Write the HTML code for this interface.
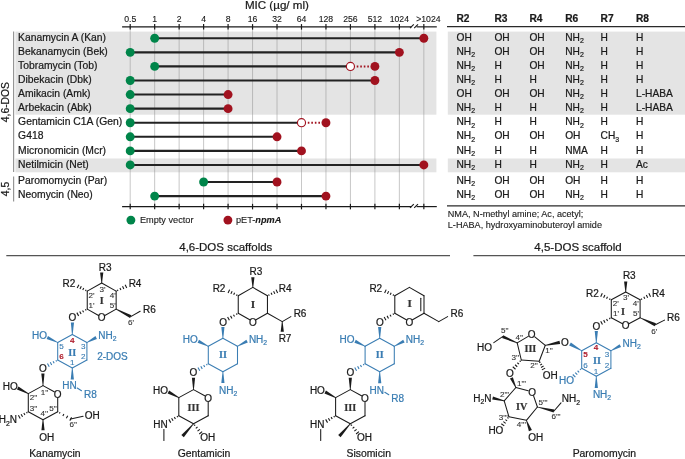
<!DOCTYPE html>
<html lang="en">
<head>
<meta charset="utf-8">
<title>MIC and aminoglycoside scaffolds</title>
<style>
html,body{margin:0;padding:0;background:#fff;}
svg{display:block;font-family:"Liberation Sans", Arial, Helvetica, sans-serif;fill:#1a1a1a;}
svg text{white-space:pre;}
</style>
</head>
<body>
<svg width="685" height="459" viewBox="0 0 685 459">
<rect x="0" y="0" width="685" height="459" fill="#fff"/>
<defs><filter id="soft" x="-5%" y="-20%" width="110%" height="140%"><feGaussianBlur stdDeviation="0.55"/></filter></defs>
<g filter="url(#soft)">
<rect x="15.4" y="31.6" width="421.0" height="83.1" fill="#e4e4e4"/>
<rect x="15.4" y="158.5" width="421.0" height="13.8" fill="#e4e4e4"/>
<rect x="447.8" y="31.6" width="240" height="83.1" fill="#e4e4e4"/>
<rect x="447.8" y="158.5" width="240" height="13.8" fill="#e4e4e4"/>
</g>
<line x1="13.60" y1="31.60" x2="13.60" y2="171.90" stroke="#969696" stroke-width="1.2"/>
<line x1="13.60" y1="176.60" x2="13.60" y2="201.40" stroke="#969696" stroke-width="1.2"/>
<line x1="130.20" y1="27.00" x2="130.20" y2="206.80" stroke="#8e8e8e" stroke-width="0.5"/>
<line x1="154.67" y1="27.00" x2="154.67" y2="206.80" stroke="#8e8e8e" stroke-width="0.5"/>
<line x1="179.14" y1="27.00" x2="179.14" y2="206.80" stroke="#8e8e8e" stroke-width="0.5"/>
<line x1="203.61" y1="27.00" x2="203.61" y2="206.80" stroke="#8e8e8e" stroke-width="0.5"/>
<line x1="228.08" y1="27.00" x2="228.08" y2="206.80" stroke="#8e8e8e" stroke-width="0.5"/>
<line x1="252.55" y1="27.00" x2="252.55" y2="206.80" stroke="#8e8e8e" stroke-width="0.5"/>
<line x1="277.02" y1="27.00" x2="277.02" y2="206.80" stroke="#8e8e8e" stroke-width="0.5"/>
<line x1="301.49" y1="27.00" x2="301.49" y2="206.80" stroke="#8e8e8e" stroke-width="0.5"/>
<line x1="325.96" y1="27.00" x2="325.96" y2="206.80" stroke="#8e8e8e" stroke-width="0.5"/>
<line x1="350.43" y1="27.00" x2="350.43" y2="206.80" stroke="#8e8e8e" stroke-width="0.5"/>
<line x1="374.90" y1="27.00" x2="374.90" y2="206.80" stroke="#8e8e8e" stroke-width="0.5"/>
<line x1="399.37" y1="27.00" x2="399.37" y2="206.80" stroke="#8e8e8e" stroke-width="0.5"/>
<line x1="423.84" y1="27.00" x2="423.84" y2="206.80" stroke="#8e8e8e" stroke-width="0.5"/>
<line x1="122.10" y1="26.85" x2="411.60" y2="26.85" stroke="#1a1a1a" stroke-width="1.2"/>
<line x1="416.60" y1="26.85" x2="436.80" y2="26.85" stroke="#1a1a1a" stroke-width="1.2"/>
<line x1="130.20" y1="24.10" x2="130.20" y2="29.60" stroke="#1a1a1a" stroke-width="1.2"/>
<line x1="154.67" y1="24.10" x2="154.67" y2="29.60" stroke="#1a1a1a" stroke-width="1.2"/>
<line x1="179.14" y1="24.10" x2="179.14" y2="29.60" stroke="#1a1a1a" stroke-width="1.2"/>
<line x1="203.61" y1="24.10" x2="203.61" y2="29.60" stroke="#1a1a1a" stroke-width="1.2"/>
<line x1="228.08" y1="24.10" x2="228.08" y2="29.60" stroke="#1a1a1a" stroke-width="1.2"/>
<line x1="252.55" y1="24.10" x2="252.55" y2="29.60" stroke="#1a1a1a" stroke-width="1.2"/>
<line x1="277.02" y1="24.10" x2="277.02" y2="29.60" stroke="#1a1a1a" stroke-width="1.2"/>
<line x1="301.49" y1="24.10" x2="301.49" y2="29.60" stroke="#1a1a1a" stroke-width="1.2"/>
<line x1="325.96" y1="24.10" x2="325.96" y2="29.60" stroke="#1a1a1a" stroke-width="1.2"/>
<line x1="350.43" y1="24.10" x2="350.43" y2="29.60" stroke="#1a1a1a" stroke-width="1.2"/>
<line x1="374.90" y1="24.10" x2="374.90" y2="29.60" stroke="#1a1a1a" stroke-width="1.2"/>
<line x1="399.37" y1="24.10" x2="399.37" y2="29.60" stroke="#1a1a1a" stroke-width="1.2"/>
<line x1="423.84" y1="24.10" x2="423.84" y2="29.60" stroke="#1a1a1a" stroke-width="1.2"/>
<line x1="410.00" y1="28.15" x2="413.80" y2="24.35" stroke="#1a1a1a" stroke-width="1.1"/>
<line x1="414.20" y1="28.15" x2="418.00" y2="24.35" stroke="#1a1a1a" stroke-width="1.1"/>
<line x1="122.10" y1="206.60" x2="411.60" y2="206.60" stroke="#1a1a1a" stroke-width="1.2"/>
<line x1="416.60" y1="206.60" x2="436.80" y2="206.60" stroke="#1a1a1a" stroke-width="1.2"/>
<line x1="130.20" y1="203.85" x2="130.20" y2="209.35" stroke="#1a1a1a" stroke-width="1.2"/>
<line x1="154.67" y1="203.85" x2="154.67" y2="209.35" stroke="#1a1a1a" stroke-width="1.2"/>
<line x1="179.14" y1="203.85" x2="179.14" y2="209.35" stroke="#1a1a1a" stroke-width="1.2"/>
<line x1="203.61" y1="203.85" x2="203.61" y2="209.35" stroke="#1a1a1a" stroke-width="1.2"/>
<line x1="228.08" y1="203.85" x2="228.08" y2="209.35" stroke="#1a1a1a" stroke-width="1.2"/>
<line x1="252.55" y1="203.85" x2="252.55" y2="209.35" stroke="#1a1a1a" stroke-width="1.2"/>
<line x1="277.02" y1="203.85" x2="277.02" y2="209.35" stroke="#1a1a1a" stroke-width="1.2"/>
<line x1="301.49" y1="203.85" x2="301.49" y2="209.35" stroke="#1a1a1a" stroke-width="1.2"/>
<line x1="325.96" y1="203.85" x2="325.96" y2="209.35" stroke="#1a1a1a" stroke-width="1.2"/>
<line x1="350.43" y1="203.85" x2="350.43" y2="209.35" stroke="#1a1a1a" stroke-width="1.2"/>
<line x1="374.90" y1="203.85" x2="374.90" y2="209.35" stroke="#1a1a1a" stroke-width="1.2"/>
<line x1="399.37" y1="203.85" x2="399.37" y2="209.35" stroke="#1a1a1a" stroke-width="1.2"/>
<line x1="423.84" y1="203.85" x2="423.84" y2="209.35" stroke="#1a1a1a" stroke-width="1.2"/>
<line x1="410.00" y1="207.90" x2="413.80" y2="204.10" stroke="#1a1a1a" stroke-width="1.1"/>
<line x1="414.20" y1="207.90" x2="418.00" y2="204.10" stroke="#1a1a1a" stroke-width="1.1"/>
<text x="130.20" y="22.30" font-size="8.7" text-anchor="middle" stroke="#1a1a1a" stroke-width="0.12">0.5</text>
<text x="154.67" y="22.30" font-size="8.7" text-anchor="middle" stroke="#1a1a1a" stroke-width="0.12">1</text>
<text x="179.14" y="22.30" font-size="8.7" text-anchor="middle" stroke="#1a1a1a" stroke-width="0.12">2</text>
<text x="203.61" y="22.30" font-size="8.7" text-anchor="middle" stroke="#1a1a1a" stroke-width="0.12">4</text>
<text x="228.08" y="22.30" font-size="8.7" text-anchor="middle" stroke="#1a1a1a" stroke-width="0.12">8</text>
<text x="252.55" y="22.30" font-size="8.7" text-anchor="middle" stroke="#1a1a1a" stroke-width="0.12">16</text>
<text x="277.02" y="22.30" font-size="8.7" text-anchor="middle" stroke="#1a1a1a" stroke-width="0.12">32</text>
<text x="301.49" y="22.30" font-size="8.7" text-anchor="middle" stroke="#1a1a1a" stroke-width="0.12">64</text>
<text x="325.96" y="22.30" font-size="8.7" text-anchor="middle" stroke="#1a1a1a" stroke-width="0.12">128</text>
<text x="350.43" y="22.30" font-size="8.7" text-anchor="middle" stroke="#1a1a1a" stroke-width="0.12">256</text>
<text x="374.90" y="22.30" font-size="8.7" text-anchor="middle" stroke="#1a1a1a" stroke-width="0.12">512</text>
<text x="399.37" y="22.30" font-size="8.7" text-anchor="middle" stroke="#1a1a1a" stroke-width="0.12">1024</text>
<text x="428.40" y="22.30" font-size="8.7" text-anchor="middle" stroke="#1a1a1a" stroke-width="0.12">&gt;1024</text>
<text x="276.90" y="8.70" font-size="11.6" text-anchor="middle" stroke="#1a1a1a" stroke-width="0.22">MIC (µg/ ml)</text>
<text x="18.10" y="40.65" font-size="10.35" stroke="#1a1a1a" stroke-width="0.22">Kanamycin A (Kan)</text>
<text x="18.10" y="54.77" font-size="10.35" stroke="#1a1a1a" stroke-width="0.22">Bekanamycin (Bek)</text>
<text x="18.10" y="68.88" font-size="10.35" stroke="#1a1a1a" stroke-width="0.22">Tobramycin (Tob)</text>
<text x="18.10" y="83.00" font-size="10.35" stroke="#1a1a1a" stroke-width="0.22">Dibekacin (Dbk)</text>
<text x="18.10" y="97.11" font-size="10.35" stroke="#1a1a1a" stroke-width="0.22">Amikacin (Amk)</text>
<text x="18.10" y="111.22" font-size="10.35" stroke="#1a1a1a" stroke-width="0.22">Arbekacin (Abk)</text>
<text x="18.10" y="125.34" font-size="10.35" stroke="#1a1a1a" stroke-width="0.22">Gentamicin C1A (Gen)</text>
<text x="18.10" y="139.46" font-size="10.35" stroke="#1a1a1a" stroke-width="0.22">G418</text>
<text x="18.10" y="153.57" font-size="10.35" stroke="#1a1a1a" stroke-width="0.22">Micronomicin (Mcr)</text>
<text x="18.10" y="167.69" font-size="10.35" stroke="#1a1a1a" stroke-width="0.22">Netilmicin (Net)</text>
<text x="18.10" y="184.10" font-size="10.35" stroke="#1a1a1a" stroke-width="0.22">Paromomycin (Par)</text>
<text x="18.10" y="198.20" font-size="10.35" stroke="#1a1a1a" stroke-width="0.22">Neomycin (Neo)</text>
<text transform="translate(8.8,102.1) rotate(-90)" font-size="10.3" text-anchor="middle" stroke="#1a1a1a" stroke-width="0.22">4,6-DOS</text>
<text transform="translate(8.8,189.0) rotate(-90)" font-size="10.3" text-anchor="middle" stroke="#1a1a1a" stroke-width="0.22">4,5</text>
<line x1="154.67" y1="38.25" x2="423.84" y2="38.25" stroke="#222" stroke-width="2.1"/>
<circle cx="154.67" cy="38.25" r="4.45" fill="#00854a"/>
<circle cx="423.84" cy="38.25" r="4.45" fill="#a1121f"/>
<line x1="130.20" y1="52.33" x2="399.37" y2="52.33" stroke="#222" stroke-width="2.1"/>
<circle cx="130.20" cy="52.33" r="4.45" fill="#00854a"/>
<circle cx="399.37" cy="52.33" r="4.45" fill="#a1121f"/>
<line x1="154.67" y1="66.41" x2="350.43" y2="66.41" stroke="#222" stroke-width="2.1"/>
<line x1="356.73" y1="66.41" x2="370.90" y2="66.41" stroke="#a1121f" stroke-width="2.0" stroke-dasharray="1.6 1.93"/>
<circle cx="350.43" cy="66.41" r="4.05" fill="#fff" stroke="#a1121f" stroke-width="1.15"/>
<circle cx="154.67" cy="66.41" r="4.45" fill="#00854a"/>
<circle cx="374.90" cy="66.41" r="4.45" fill="#a1121f"/>
<line x1="130.20" y1="80.49" x2="374.90" y2="80.49" stroke="#222" stroke-width="2.1"/>
<circle cx="130.20" cy="80.49" r="4.45" fill="#00854a"/>
<circle cx="374.90" cy="80.49" r="4.45" fill="#a1121f"/>
<line x1="130.20" y1="94.57" x2="228.08" y2="94.57" stroke="#222" stroke-width="2.1"/>
<circle cx="130.20" cy="94.57" r="4.45" fill="#00854a"/>
<circle cx="228.08" cy="94.57" r="4.45" fill="#a1121f"/>
<line x1="130.20" y1="108.65" x2="228.08" y2="108.65" stroke="#222" stroke-width="2.1"/>
<circle cx="130.20" cy="108.65" r="4.45" fill="#00854a"/>
<circle cx="228.08" cy="108.65" r="4.45" fill="#a1121f"/>
<line x1="130.20" y1="122.73" x2="301.49" y2="122.73" stroke="#222" stroke-width="2.1"/>
<line x1="307.79" y1="122.73" x2="321.96" y2="122.73" stroke="#a1121f" stroke-width="2.0" stroke-dasharray="1.6 1.93"/>
<circle cx="301.49" cy="122.73" r="4.05" fill="#fff" stroke="#a1121f" stroke-width="1.15"/>
<circle cx="130.20" cy="122.73" r="4.45" fill="#00854a"/>
<circle cx="325.96" cy="122.73" r="4.45" fill="#a1121f"/>
<line x1="130.20" y1="136.81" x2="277.02" y2="136.81" stroke="#222" stroke-width="2.1"/>
<circle cx="130.20" cy="136.81" r="4.45" fill="#00854a"/>
<circle cx="277.02" cy="136.81" r="4.45" fill="#a1121f"/>
<line x1="130.20" y1="150.89" x2="301.49" y2="150.89" stroke="#222" stroke-width="2.1"/>
<circle cx="130.20" cy="150.89" r="4.45" fill="#00854a"/>
<circle cx="301.49" cy="150.89" r="4.45" fill="#a1121f"/>
<line x1="130.20" y1="164.97" x2="423.84" y2="164.97" stroke="#222" stroke-width="2.1"/>
<circle cx="130.20" cy="164.97" r="4.45" fill="#00854a"/>
<circle cx="423.84" cy="164.97" r="4.45" fill="#a1121f"/>
<line x1="203.61" y1="182.00" x2="277.02" y2="182.00" stroke="#222" stroke-width="2.1"/>
<circle cx="203.61" cy="182.0" r="4.45" fill="#00854a"/>
<circle cx="277.02" cy="182.0" r="4.45" fill="#a1121f"/>
<line x1="154.67" y1="196.10" x2="325.96" y2="196.10" stroke="#222" stroke-width="2.1"/>
<circle cx="154.67" cy="196.1" r="4.45" fill="#00854a"/>
<circle cx="325.96" cy="196.1" r="4.45" fill="#a1121f"/>
<circle cx="130.9" cy="220.1" r="4.45" fill="#00854a"/>
<text x="139.90" y="223.30" font-size="9.2" stroke="#1a1a1a" stroke-width="0.12">Empty vector</text>
<circle cx="227.9" cy="220.1" r="4.45" fill="#a1121f"/>
<text x="235.90" y="223.30" font-size="9.2" stroke="#1a1a1a" stroke-width="0.12">pET-<tspan font-weight="bold" font-style="italic">npmA</tspan></text>
<text x="456.50" y="21.70" font-size="10.2" font-weight="bold" stroke="#1a1a1a" stroke-width="0.22">R2</text>
<text x="494.40" y="21.70" font-size="10.2" font-weight="bold" stroke="#1a1a1a" stroke-width="0.22">R3</text>
<text x="529.40" y="21.70" font-size="10.2" font-weight="bold" stroke="#1a1a1a" stroke-width="0.22">R4</text>
<text x="565.20" y="21.70" font-size="10.2" font-weight="bold" stroke="#1a1a1a" stroke-width="0.22">R6</text>
<text x="600.60" y="21.70" font-size="10.2" font-weight="bold" stroke="#1a1a1a" stroke-width="0.22">R7</text>
<text x="636.00" y="21.70" font-size="10.2" font-weight="bold" stroke="#1a1a1a" stroke-width="0.22">R8</text>
<line x1="447.00" y1="26.60" x2="685.00" y2="26.60" stroke="#2a2a2a" stroke-width="1.25"/>
<line x1="447.00" y1="205.80" x2="685.00" y2="205.80" stroke="#2a2a2a" stroke-width="1.25"/>
<text x="456.50" y="40.65" font-size="10.2" stroke="#1a1a1a" stroke-width="0.22">OH</text>
<text x="494.40" y="40.65" font-size="10.2" stroke="#1a1a1a" stroke-width="0.22">OH</text>
<text x="529.40" y="40.65" font-size="10.2" stroke="#1a1a1a" stroke-width="0.22">OH</text>
<text x="565.20" y="40.65" font-size="10.2" stroke="#1a1a1a" stroke-width="0.22">NH<tspan font-size="6.94" dy="2.24">2</tspan></text>
<text x="600.60" y="40.65" font-size="10.2" stroke="#1a1a1a" stroke-width="0.22">H</text>
<text x="636.00" y="40.65" font-size="10.2" stroke="#1a1a1a" stroke-width="0.22">H</text>
<text x="456.50" y="54.77" font-size="10.2" stroke="#1a1a1a" stroke-width="0.22">NH<tspan font-size="6.94" dy="2.24">2</tspan></text>
<text x="494.40" y="54.77" font-size="10.2" stroke="#1a1a1a" stroke-width="0.22">OH</text>
<text x="529.40" y="54.77" font-size="10.2" stroke="#1a1a1a" stroke-width="0.22">OH</text>
<text x="565.20" y="54.77" font-size="10.2" stroke="#1a1a1a" stroke-width="0.22">NH<tspan font-size="6.94" dy="2.24">2</tspan></text>
<text x="600.60" y="54.77" font-size="10.2" stroke="#1a1a1a" stroke-width="0.22">H</text>
<text x="636.00" y="54.77" font-size="10.2" stroke="#1a1a1a" stroke-width="0.22">H</text>
<text x="456.50" y="68.88" font-size="10.2" stroke="#1a1a1a" stroke-width="0.22">NH<tspan font-size="6.94" dy="2.24">2</tspan></text>
<text x="494.40" y="68.88" font-size="10.2" stroke="#1a1a1a" stroke-width="0.22">H</text>
<text x="529.40" y="68.88" font-size="10.2" stroke="#1a1a1a" stroke-width="0.22">OH</text>
<text x="565.20" y="68.88" font-size="10.2" stroke="#1a1a1a" stroke-width="0.22">NH<tspan font-size="6.94" dy="2.24">2</tspan></text>
<text x="600.60" y="68.88" font-size="10.2" stroke="#1a1a1a" stroke-width="0.22">H</text>
<text x="636.00" y="68.88" font-size="10.2" stroke="#1a1a1a" stroke-width="0.22">H</text>
<text x="456.50" y="83.00" font-size="10.2" stroke="#1a1a1a" stroke-width="0.22">NH<tspan font-size="6.94" dy="2.24">2</tspan></text>
<text x="494.40" y="83.00" font-size="10.2" stroke="#1a1a1a" stroke-width="0.22">H</text>
<text x="529.40" y="83.00" font-size="10.2" stroke="#1a1a1a" stroke-width="0.22">H</text>
<text x="565.20" y="83.00" font-size="10.2" stroke="#1a1a1a" stroke-width="0.22">NH<tspan font-size="6.94" dy="2.24">2</tspan></text>
<text x="600.60" y="83.00" font-size="10.2" stroke="#1a1a1a" stroke-width="0.22">H</text>
<text x="636.00" y="83.00" font-size="10.2" stroke="#1a1a1a" stroke-width="0.22">H</text>
<text x="456.50" y="97.11" font-size="10.2" stroke="#1a1a1a" stroke-width="0.22">OH</text>
<text x="494.40" y="97.11" font-size="10.2" stroke="#1a1a1a" stroke-width="0.22">OH</text>
<text x="529.40" y="97.11" font-size="10.2" stroke="#1a1a1a" stroke-width="0.22">OH</text>
<text x="565.20" y="97.11" font-size="10.2" stroke="#1a1a1a" stroke-width="0.22">NH<tspan font-size="6.94" dy="2.24">2</tspan></text>
<text x="600.60" y="97.11" font-size="10.2" stroke="#1a1a1a" stroke-width="0.22">H</text>
<text x="636.00" y="97.11" font-size="10.2" stroke="#1a1a1a" stroke-width="0.22">L-HABA</text>
<text x="456.50" y="111.22" font-size="10.2" stroke="#1a1a1a" stroke-width="0.22">NH<tspan font-size="6.94" dy="2.24">2</tspan></text>
<text x="494.40" y="111.22" font-size="10.2" stroke="#1a1a1a" stroke-width="0.22">H</text>
<text x="529.40" y="111.22" font-size="10.2" stroke="#1a1a1a" stroke-width="0.22">H</text>
<text x="565.20" y="111.22" font-size="10.2" stroke="#1a1a1a" stroke-width="0.22">NH<tspan font-size="6.94" dy="2.24">2</tspan></text>
<text x="600.60" y="111.22" font-size="10.2" stroke="#1a1a1a" stroke-width="0.22">H</text>
<text x="636.00" y="111.22" font-size="10.2" stroke="#1a1a1a" stroke-width="0.22">L-HABA</text>
<text x="456.50" y="125.34" font-size="10.2" stroke="#1a1a1a" stroke-width="0.22">NH<tspan font-size="6.94" dy="2.24">2</tspan></text>
<text x="494.40" y="125.34" font-size="10.2" stroke="#1a1a1a" stroke-width="0.22">H</text>
<text x="529.40" y="125.34" font-size="10.2" stroke="#1a1a1a" stroke-width="0.22">H</text>
<text x="565.20" y="125.34" font-size="10.2" stroke="#1a1a1a" stroke-width="0.22">NH<tspan font-size="6.94" dy="2.24">2</tspan></text>
<text x="600.60" y="125.34" font-size="10.2" stroke="#1a1a1a" stroke-width="0.22">H</text>
<text x="636.00" y="125.34" font-size="10.2" stroke="#1a1a1a" stroke-width="0.22">H</text>
<text x="456.50" y="139.46" font-size="10.2" stroke="#1a1a1a" stroke-width="0.22">NH<tspan font-size="6.94" dy="2.24">2</tspan></text>
<text x="494.40" y="139.46" font-size="10.2" stroke="#1a1a1a" stroke-width="0.22">OH</text>
<text x="529.40" y="139.46" font-size="10.2" stroke="#1a1a1a" stroke-width="0.22">OH</text>
<text x="565.20" y="139.46" font-size="10.2" stroke="#1a1a1a" stroke-width="0.22">OH</text>
<text x="600.60" y="139.46" font-size="10.2" stroke="#1a1a1a" stroke-width="0.22">CH<tspan font-size="6.94" dy="2.24">3</tspan></text>
<text x="636.00" y="139.46" font-size="10.2" stroke="#1a1a1a" stroke-width="0.22">H</text>
<text x="456.50" y="153.57" font-size="10.2" stroke="#1a1a1a" stroke-width="0.22">NH<tspan font-size="6.94" dy="2.24">2</tspan></text>
<text x="494.40" y="153.57" font-size="10.2" stroke="#1a1a1a" stroke-width="0.22">H</text>
<text x="529.40" y="153.57" font-size="10.2" stroke="#1a1a1a" stroke-width="0.22">H</text>
<text x="565.20" y="153.57" font-size="10.2" stroke="#1a1a1a" stroke-width="0.22">NMA</text>
<text x="600.60" y="153.57" font-size="10.2" stroke="#1a1a1a" stroke-width="0.22">H</text>
<text x="636.00" y="153.57" font-size="10.2" stroke="#1a1a1a" stroke-width="0.22">H</text>
<text x="456.50" y="167.69" font-size="10.2" stroke="#1a1a1a" stroke-width="0.22">NH<tspan font-size="6.94" dy="2.24">2</tspan></text>
<text x="494.40" y="167.69" font-size="10.2" stroke="#1a1a1a" stroke-width="0.22">H</text>
<text x="529.40" y="167.69" font-size="10.2" stroke="#1a1a1a" stroke-width="0.22">H</text>
<text x="565.20" y="167.69" font-size="10.2" stroke="#1a1a1a" stroke-width="0.22">NH<tspan font-size="6.94" dy="2.24">2</tspan></text>
<text x="600.60" y="167.69" font-size="10.2" stroke="#1a1a1a" stroke-width="0.22">H</text>
<text x="636.00" y="167.69" font-size="10.2" stroke="#1a1a1a" stroke-width="0.22">Ac</text>
<text x="456.50" y="184.10" font-size="10.2" stroke="#1a1a1a" stroke-width="0.22">NH<tspan font-size="6.94" dy="2.24">2</tspan></text>
<text x="494.40" y="184.10" font-size="10.2" stroke="#1a1a1a" stroke-width="0.22">OH</text>
<text x="529.40" y="184.10" font-size="10.2" stroke="#1a1a1a" stroke-width="0.22">OH</text>
<text x="565.20" y="184.10" font-size="10.2" stroke="#1a1a1a" stroke-width="0.22">OH</text>
<text x="600.60" y="184.10" font-size="10.2" stroke="#1a1a1a" stroke-width="0.22">H</text>
<text x="636.00" y="184.10" font-size="10.2" stroke="#1a1a1a" stroke-width="0.22">H</text>
<text x="456.50" y="198.20" font-size="10.2" stroke="#1a1a1a" stroke-width="0.22">NH<tspan font-size="6.94" dy="2.24">2</tspan></text>
<text x="494.40" y="198.20" font-size="10.2" stroke="#1a1a1a" stroke-width="0.22">OH</text>
<text x="529.40" y="198.20" font-size="10.2" stroke="#1a1a1a" stroke-width="0.22">OH</text>
<text x="565.20" y="198.20" font-size="10.2" stroke="#1a1a1a" stroke-width="0.22">NH<tspan font-size="6.94" dy="2.24">2</tspan></text>
<text x="600.60" y="198.20" font-size="10.2" stroke="#1a1a1a" stroke-width="0.22">H</text>
<text x="636.00" y="198.20" font-size="10.2" stroke="#1a1a1a" stroke-width="0.22">H</text>
<text x="447.80" y="216.80" font-size="9.1" stroke="#1a1a1a" stroke-width="0.12">NMA, N-methyl amine; Ac, acetyl;</text>
<text x="447.80" y="228.00" font-size="9.1" stroke="#1a1a1a" stroke-width="0.12">L-HABA, hydroxyaminobuteroyl amide</text>
<text x="225.80" y="251.40" font-size="11.5" text-anchor="middle" stroke="#1a1a1a" stroke-width="0.22">4,6-DOS scaffolds</text>
<text x="578.00" y="251.40" font-size="11.5" text-anchor="middle" stroke="#1a1a1a" stroke-width="0.22">4,5-DOS scaffold</text>
<line x1="6.30" y1="255.70" x2="450.00" y2="255.70" stroke="#555" stroke-width="1.2"/>
<line x1="473.40" y1="255.70" x2="685.00" y2="255.70" stroke="#555" stroke-width="1.2"/>
<line x1="87.25" y1="291.10" x2="101.70" y2="283.00" stroke="#1a1a1a" stroke-width="1.05" stroke-linecap="round"/>
<line x1="101.70" y1="283.00" x2="116.15" y2="291.10" stroke="#1a1a1a" stroke-width="1.05" stroke-linecap="round"/>
<line x1="116.15" y1="291.10" x2="116.15" y2="309.10" stroke="#1a1a1a" stroke-width="1.05" stroke-linecap="round"/>
<line x1="87.25" y1="291.10" x2="87.25" y2="309.10" stroke="#1a1a1a" stroke-width="1.05" stroke-linecap="round"/>
<line x1="87.25" y1="309.10" x2="98.56" y2="315.44" stroke="#1a1a1a" stroke-width="1.05" stroke-linecap="round"/>
<line x1="116.15" y1="309.10" x2="104.84" y2="315.44" stroke="#1a1a1a" stroke-width="1.05" stroke-linecap="round"/>
<text x="101.70" y="321.18" font-size="10.0" text-anchor="middle" stroke="#1a1a1a" stroke-width="0.22">O</text>
<polygon points="102.05,283.00 103.30,272.40 100.10,272.40 101.35,283.00" fill="#1a1a1a"/>
<text x="105.20" y="271.18" font-size="10.0" text-anchor="middle" stroke="#1a1a1a" stroke-width="0.22">R3</text>
<path d="M86.15 289.73L85.50 290.99M83.74 288.04L82.73 289.97M81.32 286.35L79.96 288.96M78.91 284.66L77.19 287.94" stroke="#1a1a1a" stroke-width="1.1" fill="none"/>
<text x="68.85" y="287.28" font-size="10.0" text-anchor="middle" stroke="#1a1a1a" stroke-width="0.22">R2</text>
<path d="M117.98 290.99L117.36 289.72M120.91 289.98L119.95 288.03M123.84 288.97L122.54 286.33M126.76 287.96L125.14 284.64" stroke="#1a1a1a" stroke-width="1.1" fill="none"/>
<text x="135.05" y="287.28" font-size="10.0" text-anchor="middle" stroke="#1a1a1a" stroke-width="0.22">R4</text>
<polygon points="115.99,309.41 130.02,318.02 131.48,315.18 116.31,308.79" fill="#1a1a1a"/>
<line x1="130.75" y1="316.60" x2="140.15" y2="311.20" stroke="#1a1a1a" stroke-width="1.05" stroke-linecap="round"/>
<text x="149.45" y="312.88" font-size="10.0" text-anchor="middle" stroke="#1a1a1a" stroke-width="0.22">R6</text>
<path d="M85.44 309.27L86.11 310.52M82.57 310.39L83.61 312.31M79.71 311.50L81.11 314.09M76.85 312.62L78.61 315.87" stroke="#1a1a1a" stroke-width="1.1" fill="none"/>
<text x="72.45" y="321.08" font-size="10.0" text-anchor="middle" stroke="#1a1a1a" stroke-width="0.22">O</text>
<text x="102.60" y="291.70" font-size="8.1" text-anchor="middle" fill="#333" stroke="#333" stroke-width="0.12">3'</text>
<text x="91.40" y="297.70" font-size="8.1" text-anchor="middle" fill="#333" stroke="#333" stroke-width="0.12">2'</text>
<text x="112.70" y="297.70" font-size="8.1" text-anchor="middle" fill="#333" stroke="#333" stroke-width="0.12">4'</text>
<text x="91.40" y="308.10" font-size="8.1" text-anchor="middle" fill="#333" stroke="#333" stroke-width="0.12">1'</text>
<text x="112.70" y="308.30" font-size="8.1" text-anchor="middle" fill="#333" stroke="#333" stroke-width="0.12">5'</text>
<text x="130.95" y="325.20" font-size="8.1" text-anchor="middle" fill="#333" stroke="#333" stroke-width="0.12">6'</text>
<text x="101.70" y="303.77" font-size="10.2" text-anchor="middle" font-weight="bold" font-family='"Liberation Serif", "Times New Roman", serif' fill="#333" stroke="#333" stroke-width="0.22">I</text>
<line x1="72.30" y1="334.50" x2="86.90" y2="342.50" stroke="#3a7db3" stroke-width="1.05" stroke-linecap="round"/>
<line x1="86.90" y1="342.50" x2="86.90" y2="360.00" stroke="#3a7db3" stroke-width="1.05" stroke-linecap="round"/>
<line x1="86.90" y1="360.00" x2="72.30" y2="368.00" stroke="#3a7db3" stroke-width="1.05" stroke-linecap="round"/>
<line x1="72.30" y1="368.00" x2="57.70" y2="360.00" stroke="#3a7db3" stroke-width="1.05" stroke-linecap="round"/>
<line x1="57.70" y1="360.00" x2="57.70" y2="342.50" stroke="#3a7db3" stroke-width="1.05" stroke-linecap="round"/>
<line x1="57.70" y1="342.50" x2="72.30" y2="334.50" stroke="#3a7db3" stroke-width="1.05" stroke-linecap="round"/>
<polygon points="72.65,334.50 74.05,322.52 70.85,322.48 71.95,334.50" fill="#3a7db3"/>
<polygon points="57.85,342.18 47.99,336.06 46.61,338.94 57.55,342.82" fill="#3a7db3"/>
<text x="39.60" y="338.98" font-size="10.0" text-anchor="middle" fill="#3a7db3" stroke="#3a7db3" stroke-width="0.22">HO</text>
<polygon points="87.07,342.81 96.96,338.91 95.44,336.09 86.73,342.19" fill="#3a7db3"/>
<text x="107.30" y="338.98" font-size="10.0" text-anchor="middle" fill="#3a7db3" stroke="#3a7db3" stroke-width="0.22">NH<tspan font-size="6.8" dy="2.2">2</tspan></text>
<text x="72.30" y="342.60" font-size="8.1" text-anchor="middle" font-weight="bold" fill="#b01f2e" stroke="#b01f2e" stroke-width="0.12">4</text>
<text x="61.60" y="349.20" font-size="8.1" text-anchor="middle" fill="#3a7db3" stroke="#3a7db3" stroke-width="0.12">5</text>
<text x="83.30" y="349.20" font-size="8.1" text-anchor="middle" fill="#3a7db3" stroke="#3a7db3" stroke-width="0.12">3</text>
<text x="72.30" y="355.77" font-size="10.2" text-anchor="middle" font-weight="bold" font-family='"Liberation Serif", "Times New Roman", serif' fill="#3a7db3" stroke="#3a7db3" stroke-width="0.22">II</text>
<text x="61.60" y="359.20" font-size="8.1" text-anchor="middle" font-weight="bold" fill="#b01f2e" stroke="#b01f2e" stroke-width="0.12">6</text>
<text x="83.30" y="359.20" font-size="8.1" text-anchor="middle" fill="#3a7db3" stroke="#3a7db3" stroke-width="0.12">2</text>
<text x="72.30" y="365.10" font-size="8.1" text-anchor="middle" fill="#3a7db3" stroke="#3a7db3" stroke-width="0.12">1</text>
<text x="112.50" y="359.98" font-size="10.0" text-anchor="middle" fill="#3a7db3" stroke="#3a7db3" stroke-width="0.22">2-DOS</text>
<polygon points="71.95,368.00 70.70,379.60 73.90,379.60 72.65,368.00" fill="#3a7db3"/>
<text x="69.50" y="389.38" font-size="10.0" text-anchor="middle" fill="#3a7db3" stroke="#3a7db3" stroke-width="0.22">HN</text>
<line x1="77.20" y1="388.00" x2="81.50" y2="390.80" stroke="#3a7db3" stroke-width="1.05" stroke-linecap="round"/>
<text x="90.40" y="397.98" font-size="10.0" text-anchor="middle" fill="#3a7db3" stroke="#3a7db3" stroke-width="0.22">R8</text>
<path d="M55.91 360.16L56.59 361.41M53.10 361.25L54.14 363.16M50.29 362.34L51.69 364.92M47.47 363.42L49.23 366.68" stroke="#3a7db3" stroke-width="1.1" fill="none"/>
<text x="42.90" y="371.98" font-size="10.0" text-anchor="middle" stroke="#1a1a1a" stroke-width="0.22">O</text>
<line x1="43.00" y1="385.60" x2="28.30" y2="393.60" stroke="#1a1a1a" stroke-width="1.05" stroke-linecap="round"/>
<line x1="28.30" y1="393.60" x2="28.30" y2="411.80" stroke="#1a1a1a" stroke-width="1.05" stroke-linecap="round"/>
<line x1="28.30" y1="411.80" x2="43.00" y2="419.80" stroke="#1a1a1a" stroke-width="1.05" stroke-linecap="round"/>
<line x1="43.00" y1="419.80" x2="57.70" y2="411.80" stroke="#1a1a1a" stroke-width="1.05" stroke-linecap="round"/>
<line x1="57.70" y1="411.80" x2="57.70" y2="397.80" stroke="#1a1a1a" stroke-width="1.05" stroke-linecap="round"/>
<line x1="43.00" y1="385.60" x2="54.19" y2="391.69" stroke="#1a1a1a" stroke-width="1.05" stroke-linecap="round"/>
<text x="57.70" y="397.78" font-size="10.0" text-anchor="middle" stroke="#1a1a1a" stroke-width="0.22">O</text>
<polygon points="43.35,385.60 44.50,373.59 41.30,373.61 42.65,385.60" fill="#1a1a1a"/>
<polygon points="28.46,393.29 18.45,386.59 16.95,389.41 28.14,393.91" fill="#1a1a1a"/>
<text x="10.20" y="389.98" font-size="10.0" text-anchor="middle" stroke="#1a1a1a" stroke-width="0.22">HO</text>
<path d="M26.56 411.97L27.26 413.21M23.83 413.08L24.91 414.97M21.11 414.18L22.56 416.74M18.39 415.29L20.21 418.51" stroke="#1a1a1a" stroke-width="1.1" fill="none"/>
<text x="7.80" y="423.38" font-size="10.0" text-anchor="middle" stroke="#1a1a1a" stroke-width="0.22">H<tspan font-size="6.8" dy="2.2">2</tspan><tspan dy="-2.2">N</tspan></text>
<polygon points="42.65,419.80 41.40,430.20 44.60,430.20 43.35,419.80" fill="#1a1a1a"/>
<text x="46.70" y="440.68" font-size="10.0" text-anchor="middle" stroke="#1a1a1a" stroke-width="0.22">OH</text>
<path d="M59.37 413.54L60.06 412.30M62.85 415.90L63.90 413.99M66.33 418.26L67.75 415.69M69.80 420.62L71.60 417.38" stroke="#1a1a1a" stroke-width="1.1" fill="none"/>
<line x1="70.70" y1="419.00" x2="83.10" y2="416.30" stroke="#1a1a1a" stroke-width="1.05" stroke-linecap="round"/>
<text x="92.30" y="419.28" font-size="10.0" text-anchor="middle" stroke="#1a1a1a" stroke-width="0.22">OH</text>
<text x="44.60" y="395.10" font-size="8.1" text-anchor="middle" fill="#333" stroke="#333" stroke-width="0.12">1''</text>
<text x="33.60" y="400.30" font-size="8.1" text-anchor="middle" fill="#333" stroke="#333" stroke-width="0.12">2''</text>
<text x="33.60" y="410.70" font-size="8.1" text-anchor="middle" fill="#333" stroke="#333" stroke-width="0.12">3''</text>
<text x="44.40" y="416.40" font-size="8.1" text-anchor="middle" fill="#333" stroke="#333" stroke-width="0.12">4''</text>
<text x="53.00" y="410.70" font-size="8.1" text-anchor="middle" fill="#333" stroke="#333" stroke-width="0.12">5''</text>
<text x="73.30" y="427.20" font-size="8.1" text-anchor="middle" fill="#333" stroke="#333" stroke-width="0.12">6''</text>
<text x="54.90" y="457.12" font-size="10.4" text-anchor="middle" stroke="#1a1a1a" stroke-width="0.22">Kanamycin</text>
<line x1="238.25" y1="295.70" x2="252.85" y2="287.40" stroke="#1a1a1a" stroke-width="1.05" stroke-linecap="round"/>
<line x1="252.85" y1="287.40" x2="267.45" y2="295.70" stroke="#1a1a1a" stroke-width="1.05" stroke-linecap="round"/>
<line x1="267.45" y1="295.70" x2="267.45" y2="313.30" stroke="#1a1a1a" stroke-width="1.05" stroke-linecap="round"/>
<line x1="238.25" y1="295.70" x2="238.25" y2="313.30" stroke="#1a1a1a" stroke-width="1.05" stroke-linecap="round"/>
<line x1="238.25" y1="313.30" x2="249.72" y2="319.82" stroke="#1a1a1a" stroke-width="1.05" stroke-linecap="round"/>
<line x1="267.45" y1="313.30" x2="255.98" y2="319.82" stroke="#1a1a1a" stroke-width="1.05" stroke-linecap="round"/>
<text x="252.85" y="325.58" font-size="10.0" text-anchor="middle" stroke="#1a1a1a" stroke-width="0.22">O</text>
<polygon points="253.20,287.40 254.45,277.20 251.25,277.20 252.50,287.40" fill="#1a1a1a"/>
<text x="255.85" y="274.78" font-size="10.0" text-anchor="middle" stroke="#1a1a1a" stroke-width="0.22">R3</text>
<path d="M237.09 294.38L236.49 295.66M234.61 292.79L233.68 294.77M232.12 291.21L230.87 293.87M229.63 289.62L228.07 292.98" stroke="#1a1a1a" stroke-width="1.1" fill="none"/>
<text x="219.05" y="291.78" font-size="10.0" text-anchor="middle" stroke="#1a1a1a" stroke-width="0.22">R2</text>
<path d="M269.21 295.66L268.61 294.38M272.02 294.77L271.09 292.79M274.83 293.87L273.58 291.21M277.63 292.98L276.07 289.62" stroke="#1a1a1a" stroke-width="1.1" fill="none"/>
<text x="285.15" y="292.28" font-size="10.0" text-anchor="middle" stroke="#1a1a1a" stroke-width="0.22">R4</text>
<line x1="267.45" y1="313.30" x2="282.25" y2="321.60" stroke="#1a1a1a" stroke-width="1.05" stroke-linecap="round"/>
<line x1="282.25" y1="321.60" x2="290.85" y2="316.60" stroke="#1a1a1a" stroke-width="1.05" stroke-linecap="round"/>
<text x="300.05" y="317.28" font-size="10.0" text-anchor="middle" stroke="#1a1a1a" stroke-width="0.22">R6</text>
<polygon points="281.90,321.60 280.65,331.80 283.85,331.80 282.60,321.60" fill="#1a1a1a"/>
<text x="285.05" y="342.38" font-size="10.0" text-anchor="middle" stroke="#1a1a1a" stroke-width="0.22">R7</text>
<path d="M236.40 313.52L237.08 314.76M233.47 314.70L234.52 316.61M230.53 315.89L231.96 318.46M227.60 317.08L229.40 320.31" stroke="#1a1a1a" stroke-width="1.1" fill="none"/>
<text x="223.25" y="325.58" font-size="10.0" text-anchor="middle" stroke="#1a1a1a" stroke-width="0.22">O</text>
<text x="252.85" y="307.56" font-size="11.4" text-anchor="middle" font-weight="bold" font-family='"Liberation Serif", "Times New Roman", serif' fill="#333" stroke="#333" stroke-width="0.22">I</text>
<line x1="222.90" y1="338.20" x2="237.50" y2="346.20" stroke="#3a7db3" stroke-width="1.05" stroke-linecap="round"/>
<line x1="237.50" y1="346.20" x2="237.50" y2="363.70" stroke="#3a7db3" stroke-width="1.05" stroke-linecap="round"/>
<line x1="237.50" y1="363.70" x2="222.90" y2="371.70" stroke="#3a7db3" stroke-width="1.05" stroke-linecap="round"/>
<line x1="222.90" y1="371.70" x2="208.30" y2="363.70" stroke="#3a7db3" stroke-width="1.05" stroke-linecap="round"/>
<line x1="208.30" y1="363.70" x2="208.30" y2="346.20" stroke="#3a7db3" stroke-width="1.05" stroke-linecap="round"/>
<line x1="208.30" y1="346.20" x2="222.90" y2="338.20" stroke="#3a7db3" stroke-width="1.05" stroke-linecap="round"/>
<polygon points="223.25,338.20 224.50,327.00 221.30,327.00 222.55,338.20" fill="#3a7db3"/>
<polygon points="208.46,345.89 199.02,339.77 197.58,342.63 208.14,346.51" fill="#3a7db3"/>
<text x="190.30" y="342.78" font-size="10.0" text-anchor="middle" fill="#3a7db3" stroke="#3a7db3" stroke-width="0.22">HO</text>
<polygon points="237.66,346.51 247.84,342.62 246.36,339.78 237.34,345.89" fill="#3a7db3"/>
<text x="258.00" y="342.98" font-size="10.0" text-anchor="middle" fill="#3a7db3" stroke="#3a7db3" stroke-width="0.22">NH<tspan font-size="6.8" dy="2.2">2</tspan></text>
<text x="222.90" y="358.37" font-size="10.2" text-anchor="middle" font-weight="bold" font-family='"Liberation Serif", "Times New Roman", serif' fill="#3a7db3" stroke="#3a7db3" stroke-width="0.22">II</text>
<polygon points="222.55,371.70 221.30,382.90 224.50,382.90 223.25,371.70" fill="#3a7db3"/>
<text x="228.20" y="393.78" font-size="10.0" text-anchor="middle" fill="#3a7db3" stroke="#3a7db3" stroke-width="0.22">NH<tspan font-size="6.8" dy="2.2">2</tspan></text>
<path d="M206.49 363.92L207.19 365.15M203.64 365.12L204.73 367.01M200.80 366.31L202.26 368.86M197.96 367.51L199.80 370.72" stroke="#3a7db3" stroke-width="1.1" fill="none"/>
<text x="193.50" y="376.18" font-size="10.0" text-anchor="middle" stroke="#1a1a1a" stroke-width="0.22">O</text>
<line x1="193.50" y1="389.60" x2="178.80" y2="397.60" stroke="#1a1a1a" stroke-width="1.05" stroke-linecap="round"/>
<line x1="178.80" y1="397.60" x2="178.80" y2="415.80" stroke="#1a1a1a" stroke-width="1.05" stroke-linecap="round"/>
<line x1="178.80" y1="415.80" x2="193.50" y2="423.80" stroke="#1a1a1a" stroke-width="1.05" stroke-linecap="round"/>
<line x1="193.50" y1="423.80" x2="208.20" y2="415.80" stroke="#1a1a1a" stroke-width="1.05" stroke-linecap="round"/>
<line x1="208.20" y1="415.80" x2="208.20" y2="401.80" stroke="#1a1a1a" stroke-width="1.05" stroke-linecap="round"/>
<line x1="193.50" y1="389.60" x2="204.69" y2="395.69" stroke="#1a1a1a" stroke-width="1.05" stroke-linecap="round"/>
<text x="208.20" y="401.78" font-size="10.0" text-anchor="middle" stroke="#1a1a1a" stroke-width="0.22">O</text>
<polygon points="193.85,389.60 195.10,377.80 191.90,377.80 193.15,389.60" fill="#1a1a1a"/>
<polygon points="178.97,397.29 169.16,390.59 167.64,393.41 178.63,397.91" fill="#1a1a1a"/>
<text x="160.60" y="393.68" font-size="10.0" text-anchor="middle" stroke="#1a1a1a" stroke-width="0.22">HO</text>
<path d="M177.05 415.99L177.76 417.22M174.33 417.13L175.42 419.01M171.60 418.26L173.07 420.81M168.87 419.40L170.73 422.60" stroke="#1a1a1a" stroke-width="1.1" fill="none"/>
<text x="160.40" y="427.78" font-size="10.0" text-anchor="middle" stroke="#1a1a1a" stroke-width="0.22">HN</text>
<line x1="163.90" y1="429.40" x2="163.90" y2="440.40" stroke="#1a1a1a" stroke-width="1.05" stroke-linecap="round"/>
<polygon points="193.24,423.57 181.40,435.04 183.80,437.16 193.76,424.03" fill="#1a1a1a"/>
<path d="M194.06 425.64L195.17 424.75M195.79 428.41L197.49 427.05M197.52 431.18L199.82 429.35M199.26 433.96L202.14 431.64" stroke="#1a1a1a" stroke-width="1.1" fill="none"/>
<text x="207.80" y="440.88" font-size="10.0" text-anchor="middle" stroke="#1a1a1a" stroke-width="0.22">OH</text>
<text x="193.50" y="410.57" font-size="10.2" text-anchor="middle" font-weight="bold" font-family='"Liberation Serif", "Times New Roman", serif' fill="#333" stroke="#333" stroke-width="0.22">III</text>
<text x="204.00" y="457.12" font-size="10.4" text-anchor="middle" stroke="#1a1a1a" stroke-width="0.22">Gentamicin</text>
<line x1="394.80" y1="295.70" x2="409.40" y2="287.40" stroke="#1a1a1a" stroke-width="1.05" stroke-linecap="round"/>
<line x1="409.40" y1="287.40" x2="424.00" y2="295.70" stroke="#1a1a1a" stroke-width="1.05" stroke-linecap="round"/>
<line x1="424.00" y1="295.70" x2="424.00" y2="313.30" stroke="#1a1a1a" stroke-width="1.05" stroke-linecap="round"/>
<line x1="394.80" y1="295.70" x2="394.80" y2="313.30" stroke="#1a1a1a" stroke-width="1.05" stroke-linecap="round"/>
<line x1="394.80" y1="313.30" x2="406.27" y2="319.82" stroke="#1a1a1a" stroke-width="1.05" stroke-linecap="round"/>
<line x1="424.00" y1="313.30" x2="412.53" y2="319.82" stroke="#1a1a1a" stroke-width="1.05" stroke-linecap="round"/>
<text x="409.40" y="325.58" font-size="10.0" text-anchor="middle" stroke="#1a1a1a" stroke-width="0.22">O</text>
<line x1="420.80" y1="298.30" x2="420.80" y2="310.70" stroke="#1a1a1a" stroke-width="1.05" stroke-linecap="round"/>
<path d="M393.64 294.38L393.04 295.66M391.16 292.79L390.23 294.77M388.67 291.21L387.42 293.87M386.18 289.62L384.62 292.98" stroke="#1a1a1a" stroke-width="1.1" fill="none"/>
<text x="375.80" y="292.28" font-size="10.0" text-anchor="middle" stroke="#1a1a1a" stroke-width="0.22">R2</text>
<line x1="424.00" y1="313.30" x2="438.80" y2="321.60" stroke="#1a1a1a" stroke-width="1.05" stroke-linecap="round"/>
<line x1="438.80" y1="321.60" x2="447.60" y2="316.60" stroke="#1a1a1a" stroke-width="1.05" stroke-linecap="round"/>
<text x="457.00" y="317.28" font-size="10.0" text-anchor="middle" stroke="#1a1a1a" stroke-width="0.22">R6</text>
<path d="M392.95 313.52L393.63 314.76M390.02 314.70L391.07 316.61M387.08 315.89L388.51 318.46M384.15 317.08L385.95 320.31" stroke="#1a1a1a" stroke-width="1.1" fill="none"/>
<text x="379.80" y="325.58" font-size="10.0" text-anchor="middle" stroke="#1a1a1a" stroke-width="0.22">O</text>
<text x="409.80" y="307.30" font-size="11.2" text-anchor="middle" font-weight="bold" font-family='"Liberation Serif", "Times New Roman", serif' fill="#333" stroke="#333" stroke-width="0.22">I</text>
<line x1="379.70" y1="338.20" x2="394.30" y2="346.20" stroke="#3a7db3" stroke-width="1.05" stroke-linecap="round"/>
<line x1="394.30" y1="346.20" x2="394.30" y2="363.70" stroke="#3a7db3" stroke-width="1.05" stroke-linecap="round"/>
<line x1="394.30" y1="363.70" x2="379.70" y2="371.70" stroke="#3a7db3" stroke-width="1.05" stroke-linecap="round"/>
<line x1="379.70" y1="371.70" x2="365.10" y2="363.70" stroke="#3a7db3" stroke-width="1.05" stroke-linecap="round"/>
<line x1="365.10" y1="363.70" x2="365.10" y2="346.20" stroke="#3a7db3" stroke-width="1.05" stroke-linecap="round"/>
<line x1="365.10" y1="346.20" x2="379.70" y2="338.20" stroke="#3a7db3" stroke-width="1.05" stroke-linecap="round"/>
<polygon points="380.05,338.20 381.30,327.00 378.10,327.00 379.35,338.20" fill="#3a7db3"/>
<polygon points="365.26,345.89 355.82,339.77 354.38,342.63 364.94,346.51" fill="#3a7db3"/>
<text x="347.10" y="342.78" font-size="10.0" text-anchor="middle" fill="#3a7db3" stroke="#3a7db3" stroke-width="0.22">HO</text>
<polygon points="394.46,346.51 404.64,342.62 403.16,339.78 394.14,345.89" fill="#3a7db3"/>
<text x="414.80" y="342.98" font-size="10.0" text-anchor="middle" fill="#3a7db3" stroke="#3a7db3" stroke-width="0.22">NH<tspan font-size="6.8" dy="2.2">2</tspan></text>
<text x="379.70" y="358.37" font-size="10.2" text-anchor="middle" font-weight="bold" font-family='"Liberation Serif", "Times New Roman", serif' fill="#3a7db3" stroke="#3a7db3" stroke-width="0.22">II</text>
<polygon points="379.35,371.70 378.10,383.30 381.30,383.30 380.05,371.70" fill="#3a7db3"/>
<text x="376.70" y="393.58" font-size="10.0" text-anchor="middle" fill="#3a7db3" stroke="#3a7db3" stroke-width="0.22">HN</text>
<line x1="384.80" y1="392.20" x2="388.80" y2="394.70" stroke="#3a7db3" stroke-width="1.05" stroke-linecap="round"/>
<text x="397.60" y="401.98" font-size="10.0" text-anchor="middle" fill="#3a7db3" stroke="#3a7db3" stroke-width="0.22">R8</text>
<path d="M363.29 363.92L363.99 365.15M360.44 365.12L361.53 367.01M357.60 366.31L359.06 368.86M354.76 367.51L356.60 370.72" stroke="#3a7db3" stroke-width="1.1" fill="none"/>
<text x="350.30" y="376.18" font-size="10.0" text-anchor="middle" stroke="#1a1a1a" stroke-width="0.22">O</text>
<line x1="350.30" y1="389.60" x2="335.60" y2="397.60" stroke="#1a1a1a" stroke-width="1.05" stroke-linecap="round"/>
<line x1="335.60" y1="397.60" x2="335.60" y2="415.80" stroke="#1a1a1a" stroke-width="1.05" stroke-linecap="round"/>
<line x1="335.60" y1="415.80" x2="350.30" y2="423.80" stroke="#1a1a1a" stroke-width="1.05" stroke-linecap="round"/>
<line x1="350.30" y1="423.80" x2="365.00" y2="415.80" stroke="#1a1a1a" stroke-width="1.05" stroke-linecap="round"/>
<line x1="365.00" y1="415.80" x2="365.00" y2="401.80" stroke="#1a1a1a" stroke-width="1.05" stroke-linecap="round"/>
<line x1="350.30" y1="389.60" x2="361.49" y2="395.69" stroke="#1a1a1a" stroke-width="1.05" stroke-linecap="round"/>
<text x="365.00" y="401.78" font-size="10.0" text-anchor="middle" stroke="#1a1a1a" stroke-width="0.22">O</text>
<polygon points="350.65,389.60 351.90,377.80 348.70,377.80 349.95,389.60" fill="#1a1a1a"/>
<polygon points="335.77,397.29 325.96,390.59 324.44,393.41 335.43,397.91" fill="#1a1a1a"/>
<text x="317.40" y="393.68" font-size="10.0" text-anchor="middle" stroke="#1a1a1a" stroke-width="0.22">HO</text>
<path d="M333.85 415.99L334.56 417.22M331.13 417.13L332.22 419.01M328.40 418.26L329.87 420.81M325.67 419.40L327.53 422.60" stroke="#1a1a1a" stroke-width="1.1" fill="none"/>
<text x="317.20" y="427.78" font-size="10.0" text-anchor="middle" stroke="#1a1a1a" stroke-width="0.22">HN</text>
<line x1="320.70" y1="429.40" x2="320.70" y2="440.40" stroke="#1a1a1a" stroke-width="1.05" stroke-linecap="round"/>
<polygon points="350.04,423.57 338.20,435.04 340.60,437.16 350.56,424.03" fill="#1a1a1a"/>
<path d="M350.86 425.64L351.97 424.75M352.59 428.41L354.29 427.05M354.32 431.18L356.62 429.35M356.06 433.96L358.94 431.64" stroke="#1a1a1a" stroke-width="1.1" fill="none"/>
<text x="364.60" y="440.88" font-size="10.0" text-anchor="middle" stroke="#1a1a1a" stroke-width="0.22">OH</text>
<text x="350.30" y="410.57" font-size="10.2" text-anchor="middle" font-weight="bold" font-family='"Liberation Serif", "Times New Roman", serif' fill="#333" stroke="#333" stroke-width="0.22">III</text>
<text x="368.70" y="457.12" font-size="10.4" text-anchor="middle" stroke="#1a1a1a" stroke-width="0.22">Sisomicin</text>
<line x1="611.30" y1="299.80" x2="625.70" y2="292.00" stroke="#1a1a1a" stroke-width="1.05" stroke-linecap="round"/>
<line x1="625.70" y1="292.00" x2="640.10" y2="299.80" stroke="#1a1a1a" stroke-width="1.05" stroke-linecap="round"/>
<line x1="640.10" y1="299.80" x2="640.10" y2="317.70" stroke="#1a1a1a" stroke-width="1.05" stroke-linecap="round"/>
<line x1="611.30" y1="299.80" x2="611.30" y2="317.70" stroke="#1a1a1a" stroke-width="1.05" stroke-linecap="round"/>
<line x1="611.30" y1="317.70" x2="622.53" y2="323.79" stroke="#1a1a1a" stroke-width="1.05" stroke-linecap="round"/>
<line x1="640.10" y1="317.70" x2="628.87" y2="323.79" stroke="#1a1a1a" stroke-width="1.05" stroke-linecap="round"/>
<text x="625.70" y="329.48" font-size="10.0" text-anchor="middle" stroke="#1a1a1a" stroke-width="0.22">O</text>
<polygon points="626.05,292.00 627.30,281.60 624.10,281.60 625.35,292.00" fill="#1a1a1a"/>
<text x="629.30" y="279.38" font-size="10.0" text-anchor="middle" stroke="#1a1a1a" stroke-width="0.22">R3</text>
<path d="M610.09 298.42L609.47 299.69M607.50 296.73L606.54 298.68M604.91 295.03L603.61 297.67M602.31 293.34L600.69 296.66" stroke="#1a1a1a" stroke-width="1.1" fill="none"/>
<text x="592.50" y="296.58" font-size="10.0" text-anchor="middle" stroke="#1a1a1a" stroke-width="0.22">R2</text>
<path d="M641.90 299.69L641.27 298.42M644.78 298.68L643.80 296.73M647.65 297.67L646.34 295.04M650.53 296.65L648.87 293.35" stroke="#1a1a1a" stroke-width="1.1" fill="none"/>
<text x="658.50" y="296.58" font-size="10.0" text-anchor="middle" stroke="#1a1a1a" stroke-width="0.22">R4</text>
<polygon points="639.95,318.02 654.63,326.15 655.97,323.25 640.25,317.38" fill="#1a1a1a"/>
<line x1="655.30" y1="324.70" x2="664.50" y2="320.10" stroke="#1a1a1a" stroke-width="1.05" stroke-linecap="round"/>
<text x="673.40" y="321.48" font-size="10.0" text-anchor="middle" stroke="#1a1a1a" stroke-width="0.22">R6</text>
<path d="M609.46 317.88L610.13 319.13M606.55 319.00L607.57 320.92M603.64 320.12L605.02 322.72M600.72 321.24L602.46 324.51" stroke="#1a1a1a" stroke-width="1.1" fill="none"/>
<text x="596.30" y="329.68" font-size="10.0" text-anchor="middle" stroke="#1a1a1a" stroke-width="0.22">O</text>
<text x="626.00" y="300.00" font-size="8.1" text-anchor="middle" fill="#333" stroke="#333" stroke-width="0.12">3'</text>
<text x="615.70" y="306.30" font-size="8.1" text-anchor="middle" fill="#333" stroke="#333" stroke-width="0.12">2'</text>
<text x="635.70" y="306.30" font-size="8.1" text-anchor="middle" fill="#333" stroke="#333" stroke-width="0.12">4'</text>
<text x="615.90" y="315.80" font-size="8.1" text-anchor="middle" fill="#333" stroke="#333" stroke-width="0.12">1'</text>
<text x="636.10" y="316.30" font-size="8.1" text-anchor="middle" fill="#333" stroke="#333" stroke-width="0.12">5'</text>
<text x="654.30" y="333.50" font-size="8.1" text-anchor="middle" fill="#333" stroke="#333" stroke-width="0.12">6'</text>
<text x="623.10" y="314.77" font-size="10.2" text-anchor="middle" font-weight="bold" font-family='"Liberation Serif", "Times New Roman", serif' fill="#333" stroke="#333" stroke-width="0.22">I</text>
<line x1="596.30" y1="342.70" x2="610.90" y2="350.70" stroke="#3a7db3" stroke-width="1.05" stroke-linecap="round"/>
<line x1="610.90" y1="350.70" x2="610.90" y2="368.20" stroke="#3a7db3" stroke-width="1.05" stroke-linecap="round"/>
<line x1="610.90" y1="368.20" x2="596.30" y2="376.20" stroke="#3a7db3" stroke-width="1.05" stroke-linecap="round"/>
<line x1="596.30" y1="376.20" x2="581.70" y2="368.20" stroke="#3a7db3" stroke-width="1.05" stroke-linecap="round"/>
<line x1="581.70" y1="368.20" x2="581.70" y2="350.70" stroke="#3a7db3" stroke-width="1.05" stroke-linecap="round"/>
<line x1="581.70" y1="350.70" x2="596.30" y2="342.70" stroke="#3a7db3" stroke-width="1.05" stroke-linecap="round"/>
<polygon points="596.65,342.70 597.90,331.10 594.70,331.10 595.95,342.70" fill="#3a7db3"/>
<polygon points="611.06,351.01 621.05,347.11 619.55,344.29 610.74,350.39" fill="#3a7db3"/>
<text x="631.60" y="347.28" font-size="10.0" text-anchor="middle" fill="#3a7db3" stroke="#3a7db3" stroke-width="0.22">NH<tspan font-size="6.8" dy="2.2">2</tspan></text>
<polygon points="595.95,376.20 594.70,388.00 597.90,388.00 596.65,376.20" fill="#3a7db3"/>
<text x="602.00" y="397.78" font-size="10.0" text-anchor="middle" fill="#3a7db3" stroke="#3a7db3" stroke-width="0.22">NH<tspan font-size="6.8" dy="2.2">2</tspan></text>
<path d="M580.02 368.88L581.02 369.88M577.61 370.75L579.15 372.29M575.20 372.62L577.28 374.70M572.79 374.49L575.41 377.11" stroke="#3a7db3" stroke-width="1.1" fill="none"/>
<text x="566.60" y="384.48" font-size="10.0" text-anchor="middle" fill="#3a7db3" stroke="#3a7db3" stroke-width="0.22">HO</text>
<polygon points="581.87,350.40 570.89,342.44 569.11,345.56 581.53,351.00" fill="#3a7db3"/>
<text x="564.80" y="345.98" font-size="10.0" text-anchor="middle" stroke="#1a1a1a" stroke-width="0.22">O</text>
<text x="596.00" y="350.20" font-size="8.1" text-anchor="middle" font-weight="bold" fill="#b01f2e" stroke="#b01f2e" stroke-width="0.12">4</text>
<text x="585.60" y="357.20" font-size="8.1" text-anchor="middle" font-weight="bold" fill="#b01f2e" stroke="#b01f2e" stroke-width="0.12">5</text>
<text x="606.90" y="357.20" font-size="8.1" text-anchor="middle" fill="#3a7db3" stroke="#3a7db3" stroke-width="0.12">3</text>
<text x="597.00" y="363.77" font-size="10.2" text-anchor="middle" font-weight="bold" font-family='"Liberation Serif", "Times New Roman", serif' fill="#3a7db3" stroke="#3a7db3" stroke-width="0.22">II</text>
<text x="585.60" y="367.60" font-size="8.1" text-anchor="middle" fill="#3a7db3" stroke="#3a7db3" stroke-width="0.12">6</text>
<text x="606.90" y="367.60" font-size="8.1" text-anchor="middle" fill="#3a7db3" stroke="#3a7db3" stroke-width="0.12">2</text>
<text x="596.00" y="373.60" font-size="8.1" text-anchor="middle" fill="#3a7db3" stroke="#3a7db3" stroke-width="0.12">1</text>
<line x1="517.20" y1="342.90" x2="528.25" y2="336.42" stroke="#1a1a1a" stroke-width="1.05" stroke-linecap="round"/>
<line x1="545.30" y1="345.30" x2="534.82" y2="336.90" stroke="#1a1a1a" stroke-width="1.05" stroke-linecap="round"/>
<line x1="545.30" y1="345.30" x2="539.20" y2="361.20" stroke="#1a1a1a" stroke-width="1.05" stroke-linecap="round"/>
<line x1="539.20" y1="361.20" x2="521.30" y2="360.00" stroke="#1a1a1a" stroke-width="1.05" stroke-linecap="round"/>
<line x1="521.30" y1="360.00" x2="517.20" y2="342.90" stroke="#1a1a1a" stroke-width="1.05" stroke-linecap="round"/>
<text x="531.70" y="338.38" font-size="10.0" text-anchor="middle" stroke="#1a1a1a" stroke-width="0.22">O</text>
<polygon points="545.37,345.64 560.13,344.07 559.47,340.73 545.23,344.96" fill="#1a1a1a"/>
<polygon points="517.34,342.58 503.23,335.13 501.97,338.07 517.06,343.22" fill="#1a1a1a"/>
<line x1="502.60" y1="336.60" x2="493.80" y2="342.60" stroke="#1a1a1a" stroke-width="1.05" stroke-linecap="round"/>
<text x="484.60" y="350.58" font-size="10.0" text-anchor="middle" stroke="#1a1a1a" stroke-width="0.22">HO</text>
<path d="M539.25 362.75L540.49 362.07M540.12 365.13L542.03 364.08M541.00 367.51L543.58 366.09M541.88 369.89L545.12 368.11" stroke="#1a1a1a" stroke-width="1.1" fill="none"/>
<text x="550.20" y="379.28" font-size="10.0" text-anchor="middle" stroke="#1a1a1a" stroke-width="0.22">OH</text>
<path d="M519.66 360.76L520.72 361.71M517.36 362.76L518.98 364.21M515.06 364.75L517.25 366.72M512.76 366.75L515.52 369.22" stroke="#1a1a1a" stroke-width="1.1" fill="none"/>
<text x="510.00" y="376.58" font-size="10.0" text-anchor="middle" stroke="#1a1a1a" stroke-width="0.22">O</text>
<text x="504.70" y="333.30" font-size="8.1" text-anchor="middle" fill="#333" stroke="#333" stroke-width="0.12">5''</text>
<text x="519.30" y="340.40" font-size="8.1" text-anchor="middle" fill="#333" stroke="#333" stroke-width="0.12">4''</text>
<text x="530.40" y="352.37" font-size="10.2" text-anchor="middle" font-weight="bold" font-family='"Liberation Serif", "Times New Roman", serif' fill="#333" stroke="#333" stroke-width="0.22">III</text>
<text x="549.00" y="352.60" font-size="8.1" text-anchor="middle" fill="#333" stroke="#333" stroke-width="0.12">1''</text>
<text x="534.00" y="367.60" font-size="8.1" text-anchor="middle" fill="#333" stroke="#333" stroke-width="0.12">2''</text>
<text x="515.40" y="360.40" font-size="8.1" text-anchor="middle" fill="#333" stroke="#333" stroke-width="0.12">3''</text>
<line x1="515.90" y1="387.50" x2="528.15" y2="390.81" stroke="#1a1a1a" stroke-width="1.05" stroke-linecap="round"/>
<line x1="537.40" y1="407.00" x2="533.57" y2="395.87" stroke="#1a1a1a" stroke-width="1.05" stroke-linecap="round"/>
<line x1="537.40" y1="407.00" x2="526.40" y2="420.30" stroke="#1a1a1a" stroke-width="1.05" stroke-linecap="round"/>
<line x1="526.40" y1="420.30" x2="508.90" y2="416.70" stroke="#1a1a1a" stroke-width="1.05" stroke-linecap="round"/>
<line x1="508.90" y1="416.70" x2="504.20" y2="400.90" stroke="#1a1a1a" stroke-width="1.05" stroke-linecap="round"/>
<line x1="504.20" y1="400.90" x2="515.90" y2="387.50" stroke="#1a1a1a" stroke-width="1.05" stroke-linecap="round"/>
<text x="532.20" y="395.88" font-size="10.0" text-anchor="middle" stroke="#1a1a1a" stroke-width="0.22">O</text>
<polygon points="516.22,387.35 512.85,377.13 509.95,378.47 515.58,387.65" fill="#1a1a1a"/>
<polygon points="504.28,400.56 492.99,396.45 492.21,399.55 504.12,401.24" fill="#1a1a1a"/>
<text x="482.40" y="401.98" font-size="10.0" text-anchor="middle" stroke="#1a1a1a" stroke-width="0.22">H<tspan font-size="6.8" dy="2.2">2</tspan><tspan dy="-2.2">N</tspan></text>
<path d="M507.39 417.53L508.52 418.38M505.37 419.58L507.11 420.89M503.34 421.63L505.69 423.40M501.32 423.69L504.28 425.91" stroke="#1a1a1a" stroke-width="1.1" fill="none"/>
<text x="495.90" y="434.38" font-size="10.0" text-anchor="middle" stroke="#1a1a1a" stroke-width="0.22">HO</text>
<polygon points="526.07,420.43 528.91,431.18 531.89,430.02 526.73,420.17" fill="#1a1a1a"/>
<text x="535.80" y="440.58" font-size="10.0" text-anchor="middle" stroke="#1a1a1a" stroke-width="0.22">OH</text>
<polygon points="537.32,407.34 553.63,412.56 554.37,409.44 537.48,406.66" fill="#1a1a1a"/>
<line x1="554.00" y1="411.00" x2="561.00" y2="402.80" stroke="#1a1a1a" stroke-width="1.05" stroke-linecap="round"/>
<text x="570.80" y="402.38" font-size="10.0" text-anchor="middle" stroke="#1a1a1a" stroke-width="0.22">NH<tspan font-size="6.8" dy="2.2">2</tspan></text>
<text x="521.70" y="410.37" font-size="10.2" text-anchor="middle" font-weight="bold" font-family='"Liberation Serif", "Times New Roman", serif' fill="#333" stroke="#333" stroke-width="0.22">IV</text>
<text x="521.60" y="386.30" font-size="8.1" text-anchor="middle" fill="#333" stroke="#333" stroke-width="0.12">1'''</text>
<text x="504.60" y="397.20" font-size="8.1" text-anchor="middle" fill="#333" stroke="#333" stroke-width="0.12">2'''</text>
<text x="503.20" y="420.00" font-size="8.1" text-anchor="middle" fill="#333" stroke="#333" stroke-width="0.12">3'''</text>
<text x="521.40" y="427.00" font-size="8.1" text-anchor="middle" fill="#333" stroke="#333" stroke-width="0.12">4'''</text>
<text x="543.00" y="405.10" font-size="8.1" text-anchor="middle" fill="#333" stroke="#333" stroke-width="0.12">5'''</text>
<text x="556.00" y="418.70" font-size="8.1" text-anchor="middle" fill="#333" stroke="#333" stroke-width="0.12">6'''</text>
<text x="604.40" y="457.12" font-size="10.4" text-anchor="middle" stroke="#1a1a1a" stroke-width="0.22">Paromomycin</text>
</svg>
</body>
</html>
